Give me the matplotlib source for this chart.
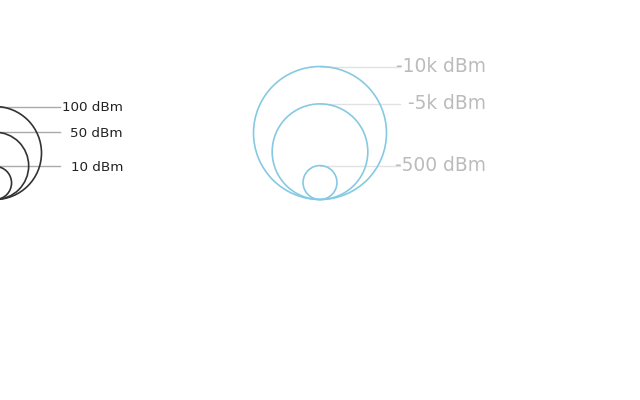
import numpy as np
import matplotlib
matplotlib.use('Agg')
import matplotlib.pyplot as plt
from matplotlib.patches import Circle

# size legend values
dark_values = [100, 50, 10]
dark_labels = ['100 dBm', '50 dBm', '10 dBm']

blue_values = [10000, 5000, 500]
blue_labels = ['-10k dBm', '-5k dBm', '-500 dBm']


def radii(values, rmax, base=2.7):
    v = np.asarray(values, dtype=float)
    return base + (rmax - base) * np.sqrt(v / v.max())


def draw_legend(ax, values, labels, cx, bottom, rmax, circ_color, line_color,
                line_end, text_x, text_color, fontsize, ha, lw, dy=0.0):
    rs = radii(values, rmax)
    for r, lab in zip(rs, labels):
        ax.add_patch(Circle((cx, bottom - r), r, fill=False,
                            edgecolor=circ_color, lw=lw))
        y = bottom - 2 * r
        ax.plot([cx, line_end], [y, y], color=line_color, lw=1.0, zorder=0)
        ax.text(text_x, y + dy, lab, color=text_color, fontsize=fontsize,
                ha=ha, va='center')


fig = plt.figure(figsize=(6.4, 4.0), dpi=100)
ax = fig.add_axes([0, 0, 1, 1])
ax.set_xlim(0, 640)
ax.set_ylim(400, 0)
ax.set_aspect('equal')
ax.axis('off')

draw_legend(ax, dark_values, dark_labels, cx=-5, bottom=199.5, rmax=46.5,
            circ_color='#333333', line_color='#aaaaaa', line_end=60,
            text_x=123, text_color='#222222', fontsize=9.7, ha='right', lw=1.2,
            dy=1.0)

draw_legend(ax, blue_values, blue_labels, cx=320, bottom=199.5, rmax=66.5,
            circ_color='#86c9e2', line_color='#e2e2e2', line_end=400,
            text_x=486, text_color='#bbbbbb', fontsize=13.4, ha='right', lw=1.2)

fig.savefig('out.png', dpi=100)
